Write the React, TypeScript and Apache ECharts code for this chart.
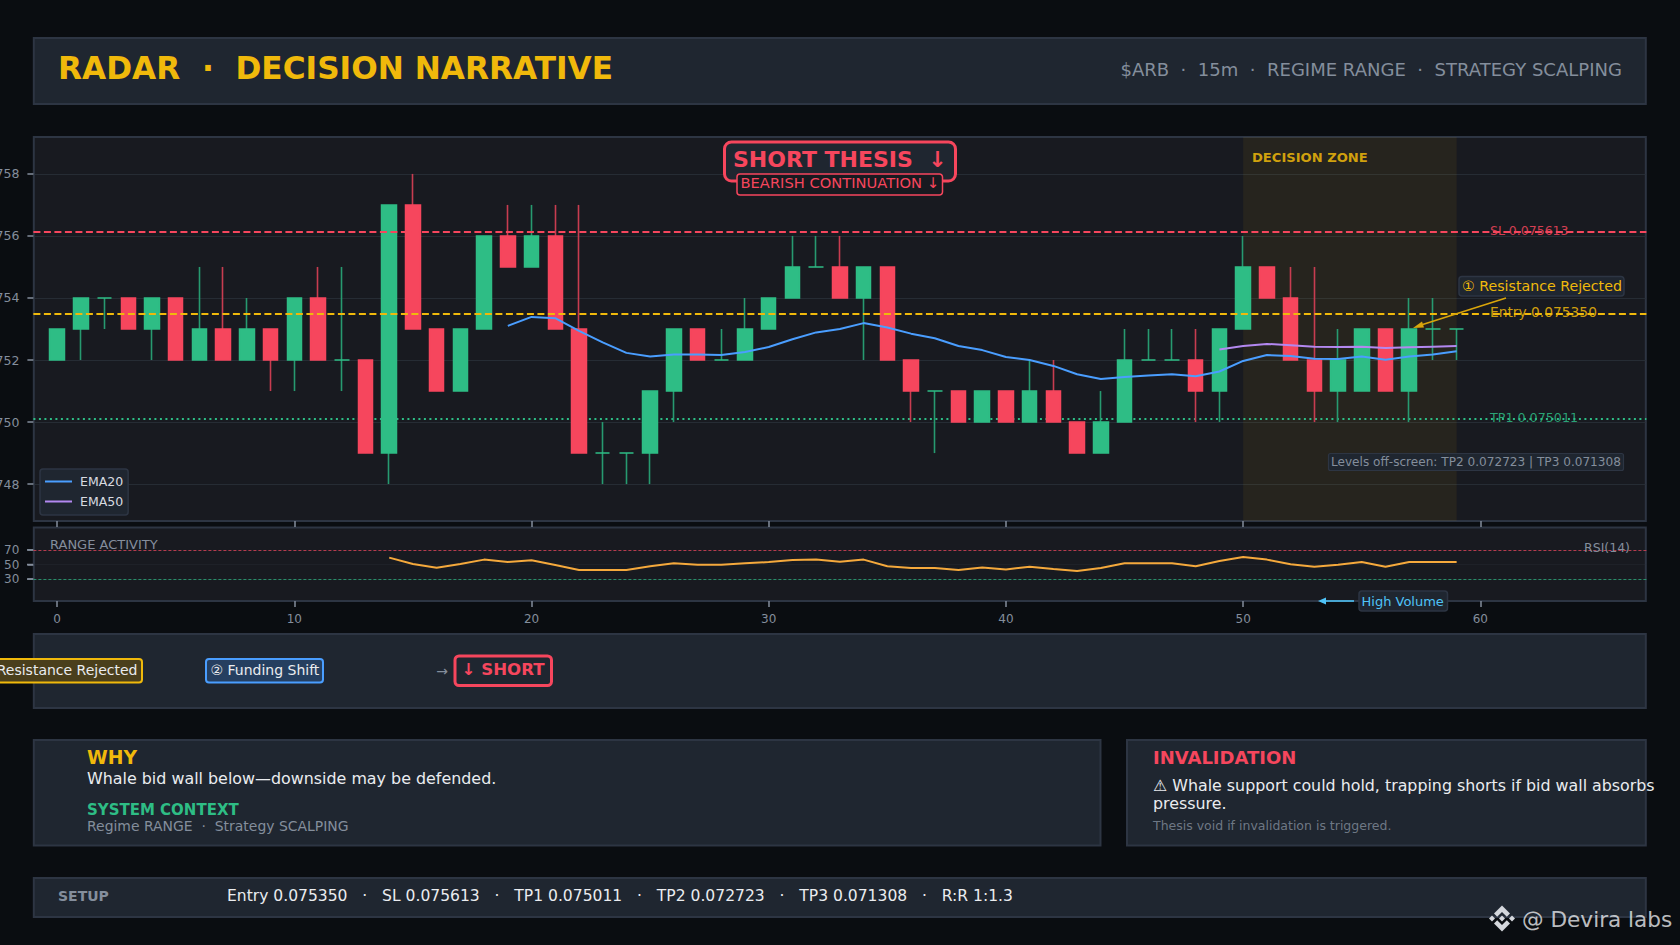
import React, { useEffect, useRef } from "react";
import * as echarts from "echarts";

const FONT = '"DejaVu Sans"';
const BG = "#0a0d11";
const PANEL = "#1f2630";
const PLOT = "#181a20";
const EDGE = "#2d3543";
const GOLD = "#f0b90b";
const RED = "#f6465d";
const GREEN = "#2ebd85";
const GRAY = "#848e9c";
const LIGHT = "#eaecef";
const BLUE = "#4a9eff";
const PURPLE = "#b388f0";
const CYAN = "#4fc3f7";

const opens = [0.0752,0.0753,0.0754,0.0754,0.0753,0.0754,0.0752,0.0753,0.0752,0.0753,0.0752,0.0754,0.0752,0.0752,0.0749,0.0757,0.0753,0.0751,0.0753,0.0756,0.0755,0.0756,0.0753,0.0749,0.0749,0.0749,0.0751,0.0753,0.0752,0.0752,0.0753,0.0754,0.0755,0.0755,0.0754,0.0755,0.0752,0.0751,0.0751,0.075,0.0751,0.075,0.0751,0.075,0.0749,0.075,0.0752,0.0752,0.0752,0.0751,0.0753,0.0755,0.0754,0.0752,0.0751,0.0751,0.0753,0.0751,0.0753,0.0753];
const closes = [0.0753,0.0754,0.0754,0.0753,0.0754,0.0752,0.0753,0.0752,0.0753,0.0752,0.0754,0.0752,0.0752,0.0749,0.0757,0.0753,0.0751,0.0753,0.0756,0.0755,0.0756,0.0753,0.0749,0.0749,0.0749,0.0751,0.0753,0.0752,0.0752,0.0753,0.0754,0.0755,0.0755,0.0754,0.0755,0.0752,0.0751,0.0751,0.075,0.0751,0.075,0.0751,0.075,0.0749,0.075,0.0752,0.0752,0.0752,0.0751,0.0753,0.0755,0.0754,0.0752,0.0751,0.0752,0.0753,0.0751,0.0753,0.0753,0.0753];
const lows = [0.0752,0.0752,0.0753,0.0753,0.0752,0.0752,0.0752,0.0752,0.0752,0.0751,0.0751,0.0752,0.0751,0.0749,0.0748,0.0753,0.0751,0.0751,0.0753,0.0755,0.0755,0.0753,0.0749,0.0748,0.0748,0.0748,0.075,0.0752,0.0752,0.0752,0.0753,0.0754,0.0755,0.0754,0.0752,0.0752,0.075,0.0749,0.075,0.075,0.075,0.075,0.075,0.0749,0.0749,0.075,0.0752,0.0752,0.075,0.075,0.0753,0.0754,0.0752,0.075,0.075,0.0751,0.0751,0.075,0.0752,0.0752];
const highs = [0.0753,0.0754,0.0754,0.0754,0.0754,0.0754,0.0755,0.0755,0.0754,0.0753,0.0754,0.0755,0.0755,0.0752,0.0757,0.0758,0.0753,0.0753,0.0756,0.0757,0.0757,0.0757,0.0757,0.075,0.0749,0.0751,0.0753,0.0753,0.0753,0.0754,0.0754,0.0756,0.0756,0.0756,0.0755,0.0755,0.0752,0.0751,0.0751,0.0751,0.0751,0.0752,0.0752,0.075,0.0751,0.0753,0.0753,0.0753,0.0753,0.0753,0.0756,0.0755,0.0755,0.0755,0.0753,0.0753,0.0753,0.0754,0.0754,0.0753];

const ema20Start = 19;
const ema20 = [0.07531,0.075339,0.075335,0.075294,0.075257,0.075223,0.075211,0.075218,0.075218,0.075216,0.075226,0.075242,0.075267,0.075289,0.0753,0.075319,0.075305,0.075285,0.07527,0.075245,0.075232,0.07521,0.0752,0.075181,0.075154,0.075139,0.075145,0.07515,0.075154,0.075148,0.075163,0.075197,0.075216,0.075213,0.075204,0.075203,0.075211,0.075201,0.075211,0.075218,0.075228];
const ema50Start = 49;
const ema50 = [0.075234,0.075245,0.075252,0.075248,0.075243,0.075242,0.075243,0.075239,0.075241,0.075243,0.075245];
const rsiStart = 14;
const rsi = [59.4,50.7,45.6,50.7,56.7,53.4,55.7,49.3,42.4,42.4,42.4,47.5,51.6,49.8,49.8,51.6,53.4,56,56.7,53.9,56.7,47.5,45.2,45.2,42.4,46,43.3,47,43.8,41,45.2,51.6,51.6,51.6,47.5,54.8,60.3,56.7,50.2,47,49.8,53.4,47,53.4,53.4,53.4];

const slLevel = 0.075613;
const entryLevel = 0.07535;
const tp1Level = 0.075011;
const zoneRange = [50, 59];
const rsiUpper = 70;
const rsiLower = 30;
const xTicks = [0, 10, 20, 30, 40, 50, 60];
const priceTicks = [0.0748, 0.075, 0.0752, 0.0754, 0.0756, 0.0758];
const rsiTicks = [30, 50, 70];

const setupLine = "Entry 0.075350   ·   SL 0.075613   ·   TP1 0.075011   ·   TP2 0.072723   ·   TP3 0.071308   ·   R:R 1:1.3";

type Any = any;

function box(x: number, y: number, w: number, h: number, fill: string, stroke: string, lineWidth = 2, r = 0, z = -10): Any {
  return { type: "rect", silent: true, z, shape: { x, y, width: w, height: h, r }, style: { fill, stroke, lineWidth } };
}
function label(text: string, x: number, y: number, size: number, fill: string, opts: Any = {}): Any {
  const { bold, align, opacity, z } = opts;
  return {
    type: "text", silent: true, z: z ?? 20,
    style: {
      text, x, y, fill, opacity: opacity ?? 1,
      font: `${bold ? "bold " : ""}${size}px ${FONT}`,
      textAlign: align ?? "left", textVerticalAlign: "middle",
    },
  };
}

export default function App() {
  const ref = useRef<HTMLDivElement>(null);
  useEffect(() => {
    document.body.style.margin = "0";
    document.body.style.background = BG;
    document.body.style.overflow = "hidden";
    const chart = echarts.init(ref.current!, null, { renderer: "svg", width: 1680, height: 945 });

    const wickData = opens.map((o, i) => [i, o, closes[i], lows[i], highs[i]]);
    const bodyData = opens.map((o, i) => [i, o, closes[i], Math.min(o, closes[i]), Math.max(o, closes[i])]);
    const hline = (v: number, color: string, type: Any, width: number, opacity = 1) => ({
      yAxis: v,
      lineStyle: { color, type, width, opacity },
    });

    const elements: Any[] = [
      // panels
      box(33.8, 38, 1612, 66, PANEL, EDGE),
      box(33.8, 137, 1612, 384, PLOT, EDGE),
      box(33.8, 527.5, 1612, 73.5, PLOT, EDGE),
      box(33.8, 634, 1612, 74, PANEL, EDGE),
      box(33.8, 740, 1066.7, 105.5, PANEL, EDGE),
      box(1127, 740, 518.8, 105.5, PANEL, EDGE),
      box(33.8, 878, 1612, 39, PANEL, EDGE),
      // header
      label("RADAR  ·  DECISION NARRATIVE", 58, 68, 31.2, GOLD, { bold: true }),
      label("$ARB  ·  15m  ·  REGIME RANGE  ·  STRATEGY SCALPING", 1622, 69, 18.05, GRAY, { align: "right" }),
      // thesis
      box(724.5, 142, 231, 39, PANEL, RED, 3, 7, 15),
      label("SHORT THESIS  ↓", 733, 159.5, 22, RED, { bold: true }),
      box(737, 174, 205.5, 21, PLOT, RED, 1.5, 3, 16),
      label("BEARISH CONTINUATION ↓", 740.5, 182.5, 14.7, RED),
      // zone
      label("DECISION ZONE", 1252, 157.5, 13.1, GOLD, { bold: true, opacity: 0.85 }),
      // level labels
      label("SL 0.075613", 1490, 230.5, 12.5, RED, { opacity: 0.85 }),
      label("Entry 0.075350", 1490, 312, 13.8, GOLD, { opacity: 0.85 }),
      label("TP1 0.075011", 1490, 417, 12.7, GREEN, { opacity: 0.85 }),
      // resistance annotation
      { type: "line", silent: true, z: 18, shape: { x1: 1506, y1: 298, x2: 1418, y2: 326 }, style: { stroke: "#d9a50b", lineWidth: 1.6 } },
      { type: "polygon", silent: true, z: 18, shape: { points: [[1413, 328], [1422, 321.5], [1424, 327.5]] }, style: { fill: "#d9a50b" } },
      box(1459, 276.5, 165, 19.5, PANEL, EDGE, 1.5, 3, 19),
      label("① Resistance Rejected", 1462, 286, 14.2, GOLD),
      // off-screen levels
      box(1328.5, 453.5, 295, 17, PANEL, EDGE, 1.2, 2, 19),
      label("Levels off-screen: TP2 0.072723 | TP3 0.071308", 1331, 462, 12.1, GRAY),
      // rsi labels
      label("RANGE ACTIVITY", 50, 544, 13, GRAY),
      label("RSI(14)", 1630, 547.5, 12.5, GRAY, { align: "right" }),
      { type: "line", silent: true, z: 18, shape: { x1: 1354, y1: 601, x2: 1322, y2: 601 }, style: { stroke: CYAN, lineWidth: 1.6 } },
      { type: "polygon", silent: true, z: 18, shape: { points: [[1318, 601], [1326, 597.5], [1326, 604.5]] }, style: { fill: CYAN } },
      box(1359, 591, 88.5, 20, PANEL, EDGE, 1.5, 3, 19),
      label("High Volume", 1361.5, 601, 13, CYAN),
      // causal chain
      box(-26, 659, 168, 23.5, "#4a3f1c", GOLD, 2, 3, 5),
      label("① Resistance Rejected", 137.5, 670, 14, LIGHT, { align: "right" }),
      label("→", 238, 670, 14, GRAY, { align: "center", z: 4 }),
      box(206, 659, 117, 23.5, "rgba(40,72,112,0.75)", BLUE, 2, 3, 5),
      label("② Funding Shift", 210.5, 670, 14, LIGHT),
      label("→", 442, 670.5, 14, GRAY, { align: "center" }),
      box(455, 656, 96.5, 29.5, PANEL, RED, 3, 4, 5),
      label("↓ SHORT", 461.5, 669.5, 16.6, RED, { bold: true }),
      // why
      label("WHY", 87, 757, 18.8, GOLD, { bold: true }),
      label("Whale bid wall below—downside may be defended.", 87, 778.5, 15.9, LIGHT),
      label("SYSTEM CONTEXT", 87, 809.6, 15, GREEN, { bold: true }),
      label("Regime RANGE  ·  Strategy SCALPING", 87, 826, 13.95, GRAY),
      // invalidation
      label("INVALIDATION", 1153, 757, 18, RED, { bold: true }),
      label("⚠ Whale support could hold, trapping shorts if bid wall absorbs", 1153, 785, 15.85, LIGHT),
      label("pressure.", 1153, 803.8, 15.85, LIGHT),
      label("Thesis void if invalidation is triggered.", 1153, 825.5, 12.5, GRAY, { opacity: 0.8 }),
      // setup
      label("SETUP", 58, 896, 14, GRAY, { bold: true }),
      label(setupLine, 227, 896, 15.55, LIGHT),
      // watermark
      label("@ Devira labs", 1522, 919, 21.6, LIGHT, { opacity: 0.8 }),
    ];

    // Left-hand ticks of the RSI pane, kept visible on top of its frame.
    rsiTicks.forEach((v) => {
      const y = 601 - (73 * v) / 100;
      elements.push({ type: "line", silent: true, z: 3, shape: { x1: 27, y1: y, x2: 33, y2: y }, style: { stroke: GRAY, lineWidth: 1.5 } });
    });

    const logo = (pts: number[][]) => ({
      type: "polygon", silent: true, z: 20,
      shape: { points: pts.map(([a, b]) => [1502 + a, 918.5 + b]) },
      style: { fill: "#d4d7dc" },
    });
    elements.push(
      logo([[0, -13], [8, -5], [4.8, -1.8], [0, -6.6], [-4.8, -1.8], [-8, -5]]),
      logo([[0, 13], [8, 5], [4.8, 1.8], [0, 6.6], [-4.8, 1.8], [-8, 5]]),
      logo([[0, -3], [3, 0], [0, 3], [-3, 0]]),
      logo([[-10, -3], [-7, 0], [-10, 3], [-13, 0]]),
      logo([[10, -3], [13, 0], [10, 3], [7, 0]])
    );

    const axisCommon = {
      axisLine: { show: false, onZero: false },
      axisTick: { show: true, lineStyle: { color: GRAY, width: 1.5 }, length: 6 },
    };
    const option: Any = {
      animation: false,
      backgroundColor: BG,
      textStyle: { fontFamily: FONT },
      graphic: { elements },
      legend: {
        data: ["EMA20", "EMA50"], orient: "vertical", left: 40, top: 469, icon: "rect",
        padding: [6, 5, 7, 5], itemWidth: 27, itemHeight: 2, itemGap: 7,
        textStyle: { color: "#d8dbe0", fontSize: 12.5, fontFamily: FONT, padding: [0, 0, 0, 3] },
        backgroundColor: PANEL, borderColor: EDGE, borderWidth: 1.5, borderRadius: 3, z: 12,
      },
      grid: [
        { left: 33.4, width: 1613, top: 137, height: 384, outerBoundsMode: "none" },
        { left: 33.4, width: 1613, top: 528, height: 73, outerBoundsMode: "none" },
      ],
      xAxis: [
        { type: "value", gridIndex: 0, min: -1, max: 67, position: "bottom", containShape: false, splitLine: { show: false },
          ...axisCommon, axisTick: { ...axisCommon.axisTick, customValues: xTicks }, axisLabel: { show: false } },
        { type: "value", gridIndex: 1, min: -1, max: 67, position: "bottom", splitLine: { show: false },
          ...axisCommon, axisTick: { ...axisCommon.axisTick, customValues: xTicks },
          axisLabel: { customValues: xTicks, color: GRAY, fontSize: 12, margin: 12, fontFamily: FONT } },
      ],
      yAxis: [
        { type: "value", gridIndex: 0, min: 0.074681, max: 0.075919, scale: true, position: "left",
          ...axisCommon, axisTick: { ...axisCommon.axisTick, customValues: priceTicks },
          axisLabel: { customValues: priceTicks, color: GRAY, fontSize: 12.5, margin: 14, fontFamily: FONT,
            formatter: (v: number) => v.toFixed(4) },
          splitLine: { show: true, lineStyle: { color: "#2b3139", width: 1, opacity: 0.8 } } },
        { type: "value", gridIndex: 1, min: 0, max: 100, position: "left",
          ...axisCommon, axisTick: { ...axisCommon.axisTick, customValues: rsiTicks },
          axisLabel: { customValues: rsiTicks, color: GRAY, fontSize: 12, margin: 14, fontFamily: FONT },
          splitLine: { show: true, lineStyle: { color: "#2b3139", width: 0.6, opacity: 0.6 } } },
      ],
      series: [
        {
          name: "Wicks", type: "candlestick", xAxisIndex: 0, yAxisIndex: 0, z: 3, barWidth: 1,
          data: wickData,
          itemStyle: { color: "#279a70", color0: "#c83c50", borderColor: "#279a70", borderColor0: "#c83c50", borderWidth: 1.6 },
          markArea: { silent: true, z: 1, itemStyle: { color: GOLD, opacity: 0.065 },
            data: [[{ xAxis: zoneRange[0] }, { xAxis: zoneRange[1] }]] },
        },
        {
          name: "Bodies", type: "candlestick", xAxisIndex: 0, yAxisIndex: 0, z: 4, barWidth: 15,
          data: bodyData,
          itemStyle: { color: GREEN, color0: RED, borderColor: GREEN, borderColor0: RED, borderWidth: 1.5 },
        },
        {
          name: "EMA20", type: "line", xAxisIndex: 0, yAxisIndex: 0, z: 7, symbol: "none",
          data: ema20.map((v, i) => [i + ema20Start, v]),
          lineStyle: { color: BLUE, width: 2 }, itemStyle: { color: BLUE },
          markLine: { silent: true, symbol: "none", z: 6, precision: 6, label: { show: false },
            data: [hline(slLevel, RED, [7, 3.5], 2), hline(entryLevel, GOLD, [7, 3.5], 2)] },
        },
        {
          name: "EMA50", type: "line", xAxisIndex: 0, yAxisIndex: 0, z: 7, symbol: "none",
          data: ema50.map((v, i) => [i + ema50Start, v]),
          lineStyle: { color: PURPLE, width: 2 }, itemStyle: { color: PURPLE },
          markLine: { silent: true, symbol: "none", z: 2, precision: 6, label: { show: false },
            data: [hline(tp1Level, GREEN, [2, 3.5], 2)] },
        },
        {
          name: "RSI", type: "line", xAxisIndex: 1, yAxisIndex: 1, z: 5, symbol: "none",
          data: rsi.map((v, i) => [i + rsiStart, v]),
          lineStyle: { color: "#f5a93c", width: 2 }, itemStyle: { color: "#f5a93c" },
          markLine: { silent: true, symbol: "none", z: 4, label: { show: false },
            data: [hline(rsiUpper, RED, [3, 2], 1.2, 0.7), hline(rsiLower, GREEN, [3, 2], 1.2, 0.7)] },
        },
      ],
    };
    chart.setOption(option);
    return () => chart.dispose();
  }, []);
  return <div ref={ref} style={{ position: "absolute", left: 0, top: 0, width: 1680, height: 945 }} />;
}
